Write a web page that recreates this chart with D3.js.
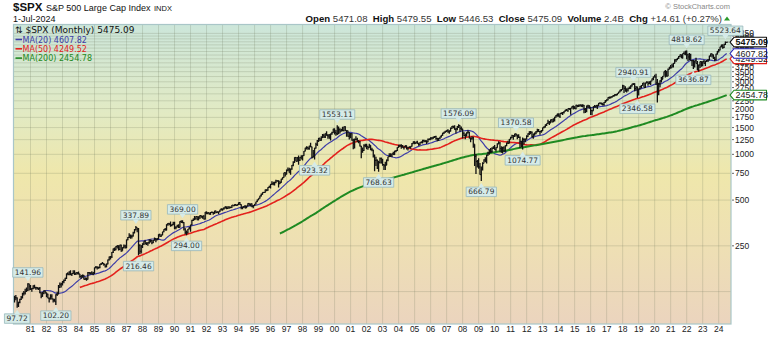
<!DOCTYPE html>
<html><head><meta charset="utf-8">
<script src="https://cdn.jsdelivr.net/npm/d3@7"></script>
<style>
body{margin:0;background:#fff;}
svg{display:block;font-family:"Liberation Sans",Arial,sans-serif;}
</style>
</head><body>
<svg id="chart" width="768" height="338"></svg>
<script>
// ---------------- DATA ----------------
const startYear = 1980; // first bar = Jan 1980, monthly bars
const closes = [
114.16,113.66,102.09,106.29,111.24,114.24,121.67,122.38,125.46,127.47,140.52,135.76,
129.55,131.27,136.00,132.81,132.59,131.21,130.92,122.79,116.18,121.89,126.35,122.55,
120.40,113.11,111.96,116.44,111.88,109.61,107.09,119.51,120.42,133.71,138.54,140.64,
145.30,148.06,152.96,164.42,162.39,168.11,162.56,164.40,166.07,163.55,166.40,164.93,
163.41,157.06,159.18,160.05,150.55,153.18,150.66,166.68,166.10,166.09,163.58,167.24,
179.63,181.18,180.66,179.83,189.55,191.85,190.92,188.63,182.08,189.82,202.17,211.28,
211.78,226.92,238.90,235.52,247.35,250.84,236.12,252.93,231.32,243.98,249.22,242.17,
274.08,284.20,291.70,288.36,290.10,304.00,318.66,329.80,321.83,251.79,230.30,247.08,
257.07,267.82,258.89,261.33,262.16,273.50,272.02,261.52,271.91,278.97,273.70,277.72,
297.47,288.86,294.87,309.64,320.52,317.98,346.08,351.45,349.15,340.36,345.99,353.40,
329.08,331.89,339.94,330.80,361.23,358.02,356.15,322.56,306.05,304.00,322.22,330.22,
343.93,367.07,375.22,375.35,389.83,371.16,387.81,395.43,387.86,392.46,375.22,417.09,
408.79,412.70,403.69,414.95,415.35,408.14,424.21,414.03,417.80,418.68,431.35,435.71,
438.78,443.38,451.67,440.19,450.19,450.53,448.13,463.56,458.93,467.83,461.79,466.45,
481.61,467.14,445.77,450.91,456.50,444.27,458.26,475.49,462.69,472.35,453.69,459.27,
470.42,487.39,500.71,514.71,533.40,544.75,562.06,561.88,584.41,581.50,605.37,615.93,
636.02,640.43,645.50,654.17,669.12,670.63,639.95,651.99,687.33,705.27,757.02,740.74,
786.16,790.82,757.12,801.34,848.28,885.14,954.31,899.47,947.28,914.62,955.40,970.43,
980.28,1049.34,1101.75,1111.75,1090.82,1133.84,1120.67,957.28,1017.01,1098.67,1163.63,1229.23,
1279.64,1238.33,1286.37,1335.18,1301.84,1372.71,1328.72,1320.41,1282.71,1362.93,1388.91,1469.25,
1394.46,1366.42,1498.58,1452.43,1420.60,1454.60,1430.83,1517.68,1436.51,1429.40,1314.95,1320.28,
1366.01,1239.94,1160.33,1249.46,1255.82,1224.42,1211.23,1133.58,1040.94,1059.78,1139.45,1148.08,
1130.20,1106.73,1147.39,1076.92,1067.14,989.82,911.62,916.07,815.28,885.76,936.31,879.82,
855.70,841.15,848.18,916.92,963.59,974.50,990.31,1008.01,995.97,1050.71,1058.20,1111.92,
1131.13,1144.94,1126.21,1107.30,1120.68,1140.84,1101.72,1104.24,1114.58,1130.20,1173.82,1211.92,
1181.27,1203.60,1180.59,1156.85,1191.50,1191.33,1234.18,1220.33,1228.81,1207.01,1249.48,1248.29,
1280.08,1280.66,1294.87,1310.61,1270.09,1270.20,1276.66,1303.82,1335.85,1377.94,1400.63,1418.30,
1438.24,1406.82,1420.86,1482.37,1530.62,1503.35,1455.27,1473.99,1526.75,1549.38,1481.14,1468.36,
1378.55,1330.63,1322.70,1385.59,1400.38,1280.00,1267.38,1282.83,1166.36,968.75,896.24,903.25,
825.88,735.09,797.87,872.81,919.14,919.32,987.48,1020.62,1057.08,1036.19,1095.63,1115.10,
1073.87,1104.49,1169.43,1186.69,1089.41,1030.71,1101.60,1049.33,1141.20,1183.26,1180.55,1257.64,
1286.12,1327.22,1325.83,1363.61,1345.20,1320.64,1292.28,1218.89,1131.42,1253.30,1246.96,1257.60,
1312.41,1365.68,1408.47,1397.91,1310.33,1362.16,1379.32,1406.58,1440.67,1412.16,1416.18,1426.19,
1498.11,1514.68,1569.19,1597.57,1630.74,1606.28,1685.73,1632.97,1681.55,1756.54,1805.81,1848.36,
1782.59,1859.45,1872.34,1883.95,1923.57,1960.23,1930.67,2003.37,1972.29,2018.05,2067.56,2058.90,
1994.99,2104.50,2067.89,2085.51,2107.39,2063.11,2103.84,1972.18,1920.03,2079.36,2080.41,2043.94,
1940.24,1932.23,2059.74,2065.30,2096.95,2098.86,2173.60,2170.95,2168.27,2126.15,2198.81,2238.83,
2278.87,2363.64,2362.72,2384.20,2411.80,2423.41,2470.30,2471.65,2519.36,2575.26,2647.58,2673.61,
2823.81,2713.83,2640.87,2648.05,2705.27,2718.37,2816.29,2901.52,2913.98,2711.74,2760.17,2506.85,
2704.10,2784.49,2834.40,2945.83,2752.06,2941.76,2980.38,2926.46,2976.74,3037.56,3140.98,3230.78,
3225.52,2954.22,2584.59,2912.43,3044.31,3100.29,3271.12,3500.31,3363.00,3269.96,3621.63,3756.07,
3714.24,3811.15,3972.89,4181.17,4204.11,4297.50,4395.26,4522.68,4307.54,4605.38,4567.00,4766.18,
4515.55,4373.94,4530.41,4131.93,4132.15,3785.38,4130.29,3955.00,3585.62,3871.98,4080.11,3839.50,
4076.60,3970.15,4109.31,4169.48,4179.83,4450.38,4588.96,4507.66,4288.05,4193.80,4567.80,4769.83,
4845.65,5096.27,5254.35,5035.69,5277.51,5460.48,5475.09
];
const highs = [
117.2,118.6,114.3,107.0,112.0,117.0,123.0,126.0,130.4,133.0,141.96,141.0,
138.1,132.0,137.4,138.4,134.4,134.0,133.0,133.9,123.5,124.0,127.3,127.0,
123.1,121.0,114.3,120.0,119.9,112.0,112.0,120.0,124.9,138.0,143.7,143.0,
146.7,150.0,154.0,164.6,167.3,170.0,172.7,165.0,172.7,173.0,167.0,168.0,
169.5,163.4,160.0,162.0,161.0,155.0,154.0,168.0,168.0,167.0,170.0,168.0,
180.0,183.9,183.0,182.0,190.0,192.5,196.0,192.0,188.0,191.0,203.0,213.0,
214.0,228.0,240.0,244.0,248.0,251.8,251.0,254.0,254.0,245.0,255.0,254.0,
275.0,286.0,302.0,297.0,296.0,309.0,323.0,337.89,328.0,328.0,256.0,253.0,
260.0,268.0,272.0,264.0,263.0,275.0,274.0,273.0,273.0,284.0,280.0,281.0,
298.0,300.0,297.0,310.0,322.0,327.0,347.0,354.0,352.0,361.0,347.0,360.0,
360.0,336.0,344.0,347.0,363.0,368.0,369.0,357.0,326.0,316.0,323.0,332.0,
344.0,371.0,378.0,393.0,391.0,391.0,391.0,397.0,396.0,395.0,398.0,418.0,
421.0,417.0,413.0,418.0,421.0,417.0,425.0,425.0,423.0,419.0,432.0,442.0,
439.0,449.0,456.0,452.0,455.0,452.0,451.0,464.0,463.0,470.0,468.0,470.0,
482.0,483.0,468.0,452.0,458.0,462.0,459.0,477.0,476.0,474.0,474.0,464.0,
472.0,488.0,504.0,515.0,533.5,553.0,564.0,566.0,587.0,587.0,608.0,622.0,
637.0,665.0,661.0,659.0,681.0,674.0,673.0,671.0,690.0,708.0,758.0,762.0,
794.0,818.0,815.0,806.0,851.0,899.0,957.0,961.0,961.0,984.0,960.0,986.0,
987.0,1051.0,1105.0,1131.0,1123.0,1138.0,1190.0,1121.0,1067.0,1104.0,1193.0,1244.0,
1280.0,1282.0,1317.0,1362.0,1368.0,1372.0,1421.0,1360.0,1360.0,1373.0,1408.0,1473.0,
1478.0,1445.0,1553.11,1527.0,1482.0,1475.0,1517.0,1525.0,1530.0,1437.0,1432.0,1390.0,
1383.0,1377.0,1268.0,1269.0,1316.0,1287.0,1237.0,1226.0,1135.0,1111.0,1163.0,1173.0,
1176.0,1131.0,1173.0,1147.0,1106.0,1070.0,993.0,965.0,925.0,907.0,954.0,954.0,
935.0,864.0,895.0,924.0,965.0,1015.0,1016.0,1011.0,1040.0,1054.0,1063.0,1112.0,
1158.0,1159.0,1163.0,1151.0,1127.0,1146.0,1140.0,1109.0,1132.0,1132.0,1188.0,1217.0,
1217.0,1212.0,1229.0,1192.0,1199.0,1219.0,1245.0,1246.0,1237.0,1233.0,1270.0,1276.0,
1295.0,1297.0,1310.0,1318.0,1326.0,1284.0,1280.0,1307.0,1340.0,1389.0,1407.0,1432.0,
1441.0,1461.0,1438.0,1499.0,1535.0,1541.0,1556.0,1489.0,1538.0,1576.09,1545.0,1523.0,
1471.0,1396.0,1370.0,1397.0,1440.0,1404.0,1292.0,1313.0,1303.0,1167.0,1007.0,919.0,
943.0,877.0,832.0,888.0,930.0,956.0,996.0,1039.0,1080.0,1101.0,1113.0,1130.0,
1150.0,1113.0,1181.0,1220.0,1205.0,1131.0,1120.0,1130.0,1149.0,1196.0,1227.0,1263.0,
1303.0,1344.0,1333.0,1364.0,1370.58,1346.0,1356.0,1308.0,1230.0,1293.0,1277.0,1270.0,
1334.0,1378.0,1420.0,1422.0,1416.0,1364.0,1392.0,1426.0,1475.0,1470.0,1419.0,1448.0,
1503.0,1530.0,1570.0,1598.0,1687.0,1654.0,1698.0,1709.0,1730.0,1765.0,1814.0,1849.0,
1850.0,1867.0,1884.0,1897.0,1925.0,1968.0,1991.0,2006.0,2019.0,2018.0,2075.0,2094.0,
2064.0,2120.0,2115.0,2126.0,2135.0,2130.0,2133.0,2113.0,2021.0,2094.0,2117.0,2105.0,
2038.0,1963.0,2072.0,2111.0,2103.0,2121.0,2178.0,2194.0,2188.0,2169.0,2214.0,2278.0,
2301.0,2371.0,2401.0,2398.0,2419.0,2454.0,2484.0,2491.0,2519.0,2582.0,2657.0,2694.0,
2873.0,2835.0,2801.0,2717.0,2742.0,2791.0,2848.0,2917.0,2940.91,2939.0,2816.0,2800.0,
2709.0,2814.0,2860.0,2950.0,2954.0,2964.0,3028.0,3014.0,3022.0,3050.0,3154.0,3248.0,
3337.0,3394.0,3136.0,2954.0,3068.0,3233.0,3280.0,3514.0,3588.0,3550.0,3668.0,3760.0,
3870.0,3950.0,3983.0,4218.0,4238.0,4302.0,4429.0,4537.0,4546.0,4608.0,4744.0,4808.0,
4818.62,4595.0,4637.0,4593.0,4170.0,4177.0,4140.0,4325.0,4120.0,3906.0,4080.0,4101.0,
4095.0,4195.0,4110.0,4170.0,4231.0,4449.0,4607.0,4584.0,4541.0,4393.0,4587.0,4793.0,
4931.0,5111.0,5265.0,5264.0,5342.0,5523.64,5479.55
];
const lows = [
105.9,109.8,97.72,98.9,104.7,110.0,112.5,118.0,119.6,124.0,126.3,127.3,
128.1,124.7,129.7,131.0,128.3,129.0,128.0,121.7,112.8,115.7,120.0,121.5,
114.6,113.0,106.0,111.0,111.0,105.9,107.0,102.2,117.0,120.0,132.0,132.9,
137.0,142.0,147.0,151.0,160.0,160.0,160.0,158.5,164.0,161.0,161.0,162.0,
162.0,154.0,152.0,155.0,150.0,149.0,147.3,150.0,162.0,162.0,162.0,160.0,
163.0,178.0,175.0,177.0,178.0,187.0,189.0,185.0,180.0,181.0,189.0,200.0,
203.5,208.0,224.0,231.0,234.0,240.0,233.0,235.0,229.0,232.0,240.0,241.0,
242.0,272.0,281.0,278.0,279.0,288.0,302.0,317.0,307.0,216.46,221.0,223.0,
242.0,253.0,255.0,253.0,250.0,258.0,263.0,256.0,261.0,271.0,264.0,272.0,
275.0,287.0,287.0,293.0,307.0,316.0,316.0,339.0,341.0,334.0,337.0,341.0,
322.0,321.0,331.0,328.0,330.0,353.0,352.0,316.0,298.0,294.0,302.0,321.0,
309.0,341.0,364.0,368.0,374.0,368.0,369.0,376.0,383.0,377.0,372.0,373.0,
403.0,404.0,402.0,400.0,411.0,401.0,406.0,410.0,413.0,404.0,418.0,427.0,
425.0,432.0,441.0,436.0,437.0,439.0,442.0,446.0,455.0,457.0,457.0,459.0,
464.0,464.0,436.0,435.0,444.0,441.0,443.0,456.0,461.0,455.0,448.0,442.0,
457.0,469.0,485.0,500.0,513.0,527.0,545.0,556.0,560.0,572.0,577.0,602.0,
597.0,628.0,627.0,624.0,645.0,660.0,605.0,639.0,649.0,682.0,703.0,716.0,
737.0,773.0,756.0,733.0,793.0,836.0,879.0,899.0,898.0,855.0,903.0,926.0,
912.0,980.0,1046.0,1076.0,1074.0,1074.0,1114.0,939.0,957.0,923.32,1092.0,1136.0,
1205.0,1223.0,1227.0,1282.0,1281.0,1279.0,1324.0,1268.0,1266.0,1233.0,1343.0,1387.0,
1351.0,1326.0,1339.0,1357.0,1373.0,1416.0,1417.0,1421.0,1419.0,1306.0,1307.0,1254.0,
1275.0,1228.0,1081.0,1092.0,1240.0,1203.0,1183.0,1124.0,944.0,1026.0,1054.0,1114.0,
1081.0,1074.0,1106.0,1063.0,1049.0,952.0,775.0,838.0,800.0,768.63,872.0,869.0,
840.0,788.0,789.0,847.0,902.0,962.0,962.0,960.0,990.0,994.0,1031.0,1053.0,
1105.0,1123.0,1088.0,1106.0,1077.0,1113.0,1078.0,1060.0,1101.0,1090.0,1127.0,1173.0,
1163.0,1180.0,1176.0,1137.0,1146.0,1188.0,1183.0,1201.0,1201.0,1168.0,1201.0,1243.0,
1245.0,1253.0,1268.0,1281.0,1245.0,1219.0,1224.0,1262.0,1290.0,1327.0,1360.0,1385.0,
1403.0,1389.0,1364.0,1416.0,1476.0,1484.0,1454.0,1370.0,1439.0,1489.0,1406.0,1435.0,
1270.0,1316.0,1257.0,1312.0,1373.0,1272.0,1200.0,1247.0,1106.0,839.0,741.0,818.0,
805.0,735.0,666.79,783.0,879.0,888.0,869.0,978.0,992.0,1020.0,1029.0,1086.0,
1071.0,1045.0,1105.0,1170.0,1040.0,1028.0,1011.0,1040.0,1040.0,1131.0,1173.0,1181.0,
1257.0,1283.0,1249.0,1299.0,1311.0,1258.0,1282.0,1102.0,1114.0,1074.77,1159.0,1202.0,
1259.0,1306.0,1340.0,1357.0,1292.0,1267.0,1325.0,1355.0,1396.0,1403.0,1343.0,1386.0,
1426.0,1485.0,1501.0,1537.0,1581.0,1560.0,1605.0,1627.0,1633.0,1646.0,1746.0,1767.0,
1770.0,1737.0,1834.0,1814.0,1860.0,1915.0,1930.0,1905.0,1964.0,1821.0,2001.0,1972.0,
1988.0,1981.0,2039.0,2048.0,2067.0,2056.0,2044.0,1867.0,1872.0,1893.0,2019.0,1993.0,
1812.0,1810.0,1937.0,2033.0,2025.0,1991.0,2074.0,2147.0,2120.0,2098.0,2084.0,2187.0,
2245.0,2271.0,2322.0,2329.0,2353.0,2405.0,2407.0,2417.0,2446.0,2520.0,2557.0,2605.0,
2682.0,2533.0,2585.0,2553.0,2594.0,2691.0,2698.0,2796.0,2864.0,2604.0,2631.0,2346.58,
2443.0,2681.0,2722.0,2848.0,2750.0,2729.0,2952.0,2822.0,2892.0,2855.0,3050.0,3070.0,
3214.0,2855.0,2192.0,2447.0,2766.0,2966.0,3115.0,3284.0,3209.0,3234.0,3279.0,3633.0,
3663.0,3725.0,3723.0,3955.0,4057.0,4165.0,4233.0,4367.0,4306.0,4278.0,4561.0,4495.0,
4223.0,4115.0,4157.0,4125.0,3811.0,3636.87,3722.0,3955.0,3584.0,3491.0,3698.0,3764.0,
3794.0,3943.0,3809.0,4049.0,4048.0,4167.0,4385.0,4335.0,4238.0,4104.0,4167.0,4546.0,
4683.0,4845.0,5057.0,4954.0,5011.0,5234.0,5446.53
];
const yearLabels = ["81","82","83","84","85","86","87","88","89","90","91","92","93","94","95","96","97","98","99","00","01","02","03","04","05","06","07","08","09","10","11","12","13","14","15","16","17","18","19","20","21","22","23","24"];
const gridYears = d3.range(1981, 2025);
const yGridValues = [125,250,500,750,1000,1250,1500,1750,2000,2250,2500,2750,3000,3250,3500,3750,4000,4250,4500,4750,5000,5250,5500,5750,6000,6250];
const yLabelValues = [250,500,750,1000,1250,1500,1750,2000,2250,2500,2750,3000,3250,3500,3750,4000,4250,4500,4750,5000,5250,5500,5750,6000,6250];
const annMonths = ["1980-03","1980-11","1982-08","1987-08","1987-10","1990-07","1990-10","1998-10","2000-03","2002-10","2007-10","2009-03","2011-05","2011-10","2018-09","2018-12","2022-01","2022-06","2024-06"];
const annValues = [97.72,141.96,102.20,337.89,216.46,369.00,294.00,923.32,1553.11,768.63,1576.09,666.79,1370.58,1074.77,2940.91,2346.58,4818.62,3636.87,5523.64];
const annSides  = ["low","high","low","high","low","high","low","low","high","low","high","low","high","low","high","low","high","low","high"];
const maPeriods = [20, 50, 200];
const maNames = ["MA(20)","MA(50)","MA(200)"];
const maLast = [4607.82, 4249.52, 2454.78];
const maColors = ["#3c3ca8","#e3211c","#1f8a22"];
const maWidths = [1.2, 1.6, 2.0];
const lastPrice = 5475.09;
const quoteLabels = ["Open","High","Low","Close","Volume","Chg"];
const quoteValues = ["5471.08","5479.55","5446.53","5475.09","2.4B","+14.61 (+0.27%)"];

// ---------------- LAYOUT ----------------
const svg = d3.select("#chart");
const plot = {left:13.5, right:731, top:24.5, bottom:324};
const x = d3.scaleLinear().domain([1980, 2024]).range([14.5, 718.7]);
const y = d3.scaleLog().domain([76.5, 7150]).range([plot.bottom, plot.top]);
const monthT = i => startYear + i/12;

// gradient
const defs = svg.append("defs");
const grad = defs.append("linearGradient").attr("id","bg").attr("x1",0).attr("x2",0).attr("y1",0).attr("y2",1);
[[0,"#cce6da"],[0.3,"#e2eac3"],[0.5,"#efe7ab"],[0.75,"#eedfb4"],[1,"#ebd4be"]].forEach(s=>grad.append("stop").attr("offset",s[0]).attr("stop-color",s[1]));
defs.append("clipPath").attr("id","clip").append("rect")
  .attr("x",plot.left).attr("y",plot.top).attr("width",plot.right-plot.left).attr("height",plot.bottom-plot.top);

svg.append("rect").attr("x",plot.left).attr("y",plot.top).attr("width",plot.right-plot.left).attr("height",plot.bottom-plot.top)
  .attr("fill","url(#bg)");

// grid
const grid = svg.append("g").attr("clip-path","url(#clip)");
grid.selectAll("line.v").data(gridYears).join("line")
  .attr("x1",d=>x(d)).attr("x2",d=>x(d)).attr("y1",plot.top).attr("y2",plot.bottom)
  .attr("stroke","rgba(110,120,90,0.22)").attr("stroke-width",1);
grid.selectAll("line.h").data(yGridValues).join("line")
  .attr("x1",plot.left).attr("x2",plot.right).attr("y1",d=>y(d)).attr("y2",d=>y(d))
  .attr("stroke","rgba(110,120,90,0.22)").attr("stroke-width",1);

svg.append("rect").attr("x",plot.left).attr("y",plot.top).attr("width",plot.right-plot.left).attr("height",plot.bottom-plot.top)
  .attr("fill","none").attr("stroke","#a9c6c8").attr("stroke-width",1.2);

// x labels
svg.append("g").selectAll("text").data(gridYears).join("text")
  .attr("x",d=>x(d)).attr("y",332).attr("text-anchor","middle")
  .attr("font-size","8.5px").attr("fill","#222").text((d,i)=>yearLabels[i]);

// y labels
const yl = svg.append("g");
yl.selectAll("line").data(yLabelValues).join("line")
  .attr("x1",plot.right+1).attr("x2",plot.right+3).attr("y1",d=>y(d)).attr("y2",d=>y(d)).attr("stroke","#666");
yl.selectAll("text").data(yLabelValues).join("text")
  .attr("x",plot.right+4).attr("y",d=>y(d)+3).attr("font-size","8.5px").attr("fill","#222").text(d=>d);

// moving averages
const g = svg.append("g").attr("clip-path","url(#clip)");
maPeriods.forEach((p,k)=>{
  const pts = [];
  for(let i=p-1;i<closes.length;i++) pts.push([monthT(i), d3.mean(closes.slice(i-p+1,i+1))]);
  g.append("path").datum(pts)
    .attr("d", d3.line().x(d=>x(d[0])).y(d=>y(d[1])))
    .attr("fill","none").attr("stroke",maColors[k]).attr("stroke-width",maWidths[k]);
});

// price bars
const bars = g.append("g").attr("stroke","#111");
bars.selectAll("line.hl").data(closes).join("line")
  .attr("x1",(d,i)=>x(monthT(i))).attr("x2",(d,i)=>x(monthT(i)))
  .attr("y1",(d,i)=>y(highs[i])).attr("y2",(d,i)=>y(lows[i])).attr("stroke-width",1.3);
bars.selectAll("line.c").data(closes).join("line")
  .attr("x1",(d,i)=>x(monthT(i))).attr("x2",(d,i)=>x(monthT(i))+1.6)
  .attr("y1",d=>y(d)).attr("y2",d=>y(d)).attr("stroke-width",1);

// annotations
const ann = svg.append("g").attr("font-family","'DejaVu Sans',Verdana,sans-serif").attr("font-size","7.5px");
annMonths.forEach((m,k)=>{
  const [yy,mm] = m.split("-").map(Number);
  const t = yy + (mm-1)/12;
  const px = x(t), py = y(annValues[k]);
  const hi = annSides[k]==="high";
  const tip = hi ? py-2 : py+2;
  const base = hi ? tip-4 : tip+4;
  const txt = ann.append("text").attr("fill","#333").attr("text-anchor","middle").text(annValues[k].toFixed(2));
  const w = txt.node().getComputedTextLength()+4, h = 9.5;
  const by = hi ? base-h : base;
  ann.insert("path","text")
    .attr("d", `M${px-w/2},${by} h${w} v${h} h${-w} Z`)
    .attr("fill","#d6ebe8").attr("stroke","#97b7bb").attr("stroke-width",0.8);
  ann.insert("path","text")
    .attr("d", hi ? `M${px-3},${base-0.5} L${px},${tip} L${px+3},${base-0.5} Z` : `M${px-3},${base+0.5} L${px},${tip} L${px+3},${base+0.5} Z`)
    .attr("fill","#d6ebe8").attr("stroke","none");
  txt.attr("x",px).attr("y",by+h-2.2).raise();
});

// legend
const lg = svg.append("g").attr("font-family","'DejaVu Sans',Verdana,sans-serif");
lg.append("text").attr("x",15).attr("y",33).attr("font-size","9px").attr("fill","#111")
  .text("⇅ $SPX (Monthly) " + lastPrice.toFixed(2));
maNames.forEach((n,k)=>{
  const yy = 42.5 + k*9.3;
  lg.append("line").attr("x1",15.5).attr("x2",22).attr("y1",yy-3).attr("y2",yy-3).attr("stroke",maColors[k]).attr("stroke-width",1.6);
  lg.append("text").attr("x",22.5).attr("y",yy).attr("font-size","8px").attr("fill",maColors[k]).text(n+" "+maLast[k].toFixed(2));
});

// right tags
function tag(v, color, bold, textColor){
  const ty = y(v);
  const t = svg.append("g");
  t.append("path").attr("d",`M${plot.right-1},${ty} L${plot.right+3},${ty-4.8} L766.5,${ty-4.8} L766.5,${ty+4.8} L${plot.right+3},${ty+4.8} Z`)
    .attr("fill","#fff").attr("stroke",color).attr("stroke-width",1.1).attr("stroke-linejoin","round");
  t.append("text").attr("x",plot.right+4.5).attr("y",ty+3.2).attr("font-size","9px")
    .attr("font-weight",bold?"bold":"normal").attr("fill",textColor).text(v.toFixed(2));
}
tag(maLast[2], maColors[2], false, "#222");
tag(maLast[1], maColors[1], false, "#222");
tag(maLast[0], "#2323b8", false, "#222");
tag(lastPrice, "#111", true, "#111");

// header
const hd = svg.append("g");
hd.append("text").attr("x",13).attr("y",11).attr("font-size","11.5px").attr("font-weight","bold").attr("fill","#111").text("$SPX");
hd.append("text").attr("x",46).attr("y",11).attr("font-size","9px").attr("fill","#111").text("S&P 500 Large Cap Index");
hd.append("text").attr("x",154).attr("y",11).attr("font-size","7.5px").attr("fill","#111").text("INDX");
hd.append("text").attr("x",13).attr("y",21.5).attr("font-size","9px").attr("fill","#111").text("1-Jul-2024");
hd.append("text").attr("x",730).attr("y",9).attr("text-anchor","end").attr("font-size","7.5px").attr("fill","#888").text("© StockCharts.com");
const q = hd.append("text").attr("x",722).attr("y",21.5).attr("text-anchor","end").attr("font-size","9.6px").attr("fill","#111")
  .attr("xml:space","preserve").style("white-space","pre");
quoteLabels.forEach((l,k)=>{
  q.append("tspan").attr("font-weight","bold").text((k?"  ":"")+l+" ");
  q.append("tspan").attr("fill","#333").text(quoteValues[k]);
});
hd.append("path").attr("d","M724,20.5 L727,16.5 L730,20.5 Z").attr("fill","#2a9a2a");
</script>
</body></html>
